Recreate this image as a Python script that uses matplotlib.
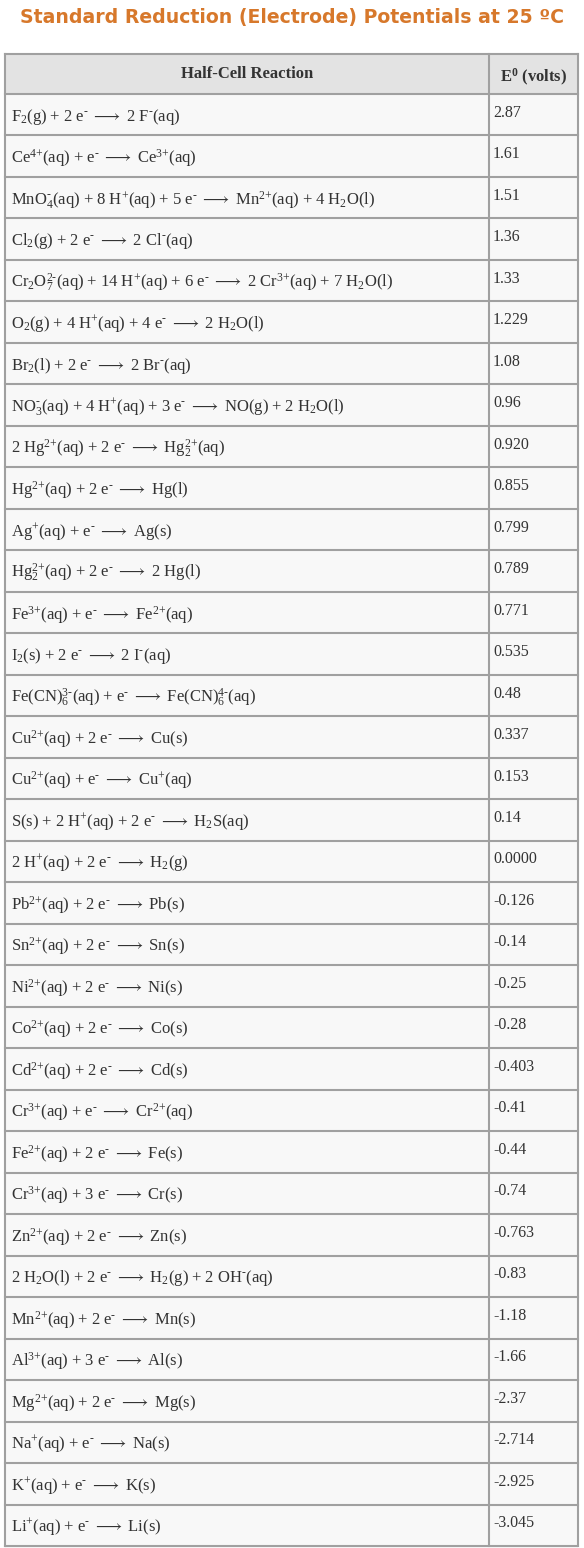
import matplotlib
matplotlib.use("Agg")
import matplotlib.pyplot as plt

plt.rcParams['mathtext.fontset'] = 'custom'
plt.rcParams['mathtext.rm'] = 'Liberation Serif'
plt.rcParams['mathtext.it'] = 'Liberation Serif:italic'
plt.rcParams['mathtext.bf'] = 'Liberation Serif:bold'

title = "Standard Reduction (Electrode) Potentials at 25 ºC"
headers = ["Half-Cell Reaction", r"$\mathbf{E^0}$ (volts)"]

reactions = [
    "F_{2}(g) + 2 e^{-} --> 2 F^{-}(aq)",
    "Ce^{4+}(aq) + e^{-} --> Ce^{3+}(aq)",
    "MnO_{4}^{-}(aq) + 8 H^{+}(aq) + 5 e^{-} --> Mn^{2+}(aq) + 4 H_{2}O(l)",
    "Cl_{2}(g) + 2 e^{-} --> 2 Cl^{-}(aq)",
    "Cr_{2}O_{7}^{2-}(aq) + 14 H^{+}(aq) + 6 e^{-} --> 2 Cr^{3+}(aq) + 7 H_{2}O(l)",
    "O_{2}(g) + 4 H^{+}(aq) + 4 e^{-} --> 2 H_{2}O(l)",
    "Br_{2}(l) + 2 e^{-} --> 2 Br^{-}(aq)",
    "NO_{3}^{-}(aq) + 4 H^{+}(aq) + 3 e^{-} --> NO(g) + 2 H_{2}O(l)",
    "2 Hg^{2+}(aq) + 2 e^{-} --> Hg_{2}^{2+}(aq)",
    "Hg^{2+}(aq) + 2 e^{-} --> Hg(l)",
    "Ag^{+}(aq) + e^{-} --> Ag(s)",
    "Hg_{2}^{2+}(aq) + 2 e^{-} --> 2 Hg(l)",
    "Fe^{3+}(aq) + e^{-} --> Fe^{2+}(aq)",
    "I_{2}(s) + 2 e^{-} --> 2 I^{-}(aq)",
    "Fe(CN)_{6}^{3-}(aq) + e^{-} --> Fe(CN)_{6}^{4-}(aq)",
    "Cu^{2+}(aq) + 2 e^{-} --> Cu(s)",
    "Cu^{2+}(aq) + e^{-} --> Cu^{+}(aq)",
    "S(s) + 2 H^{+}(aq) + 2 e^{-} --> H_{2}S(aq)",
    "2 H^{+}(aq) + 2 e^{-} --> H_{2}(g)",
    "Pb^{2+}(aq) + 2 e^{-} --> Pb(s)",
    "Sn^{2+}(aq) + 2 e^{-} --> Sn(s)",
    "Ni^{2+}(aq) + 2 e^{-} --> Ni(s)",
    "Co^{2+}(aq) + 2 e^{-} --> Co(s)",
    "Cd^{2+}(aq) + 2 e^{-} --> Cd(s)",
    "Cr^{3+}(aq) + e^{-} --> Cr^{2+}(aq)",
    "Fe^{2+}(aq) + 2 e^{-} --> Fe(s)",
    "Cr^{3+}(aq) + 3 e^{-} --> Cr(s)",
    "Zn^{2+}(aq) + 2 e^{-} --> Zn(s)",
    "2 H_{2}O(l) + 2 e^{-} --> H_{2}(g) + 2 OH^{-}(aq)",
    "Mn^{2+}(aq) + 2 e^{-} --> Mn(s)",
    "Al^{3+}(aq) + 3 e^{-} --> Al(s)",
    "Mg^{2+}(aq) + 2 e^{-} --> Mg(s)",
    "Na^{+}(aq) + e^{-} --> Na(s)",
    "K^{+}(aq) + e^{-} --> K(s)",
    "Li^{+}(aq) + e^{-} --> Li(s)",
]
potentials = ["2.87", "1.61", "1.51", "1.36", "1.33", "1.229", "1.08", "0.96",
              "0.920", "0.855", "0.799", "0.789", "0.771", "0.535", "0.48",
              "0.337", "0.153", "0.14", "0.0000", "-0.126", "-0.14", "-0.25",
              "-0.28", "-0.403", "-0.41", "-0.44", "-0.74", "-0.763", "-0.83",
              "-1.18", "-1.66", "-2.37", "-2.714", "-2.925", "-3.045"]


def to_math(s):
    s = s.replace("+", "{+}")
    s = s.replace("-->", r"\longrightarrow").replace(" ", r"\ ")
    s = s.replace("^{-}", "^{\u2010}").replace("-}", "\u2010}")
    return r"$\mathrm{" + s + "}$"


W, H = 584, 1548
fig = plt.figure(figsize=(W / 100, H / 100), dpi=100)
ax = fig.add_axes([0, 0, 1, 1])
ax.set_xlim(0, W)
ax.set_ylim(H, 0)
ax.axis("off")

ax.text(292, 17, title, ha="center", va="center", color="#d7782b",
        fontsize=13.6, fontweight="bold", family="DejaVu Sans")

left, mid, right = 5, 489, 578
top, head_bot = 54, 94
row_h = (H - 2 - head_bot) / len(reactions)
line_c = "#a0a0a0"

ax.add_patch(plt.Rectangle((left, top), right - left, head_bot - top,
                           facecolor="#e3e3e3", edgecolor="none"))
ax.add_patch(plt.Rectangle((left, head_bot), right - left, H - head_bot,
                           facecolor="#f8f8f8", edgecolor="none"))
ax.text((left + mid) / 2, 74, headers[0], ha="center", va="center",
        family="Liberation Serif", fontweight="bold", fontsize=12, color="#333333")
ax.text((mid + right) / 2, 77, headers[1], ha="center", va="center",
        family="Liberation Serif", fontweight="bold", fontsize=12, color="#333333")

ys = [top, head_bot] + [head_bot + row_h * (i + 1) for i in range(len(reactions))]
for y in ys:
    ax.plot([left, right], [y, y], color=line_c, lw=1.5)
for x in (left, mid, right):
    ax.plot([x, x], [top, ys[-1]], color=line_c, lw=1.5)

for i, (r, p) in enumerate(zip(reactions, potentials)):
    yc = head_bot + row_h * (i + 0.5)
    ax.text(11, yc + 2, to_math(r), ha="left", va="center", fontsize=12,
            color="#333333")
    ax.text(493, yc - 2, p, ha="left", va="center", fontsize=11.5,
            family="Liberation Serif", color="#333333")

fig.savefig("out.png", dpi=100)
